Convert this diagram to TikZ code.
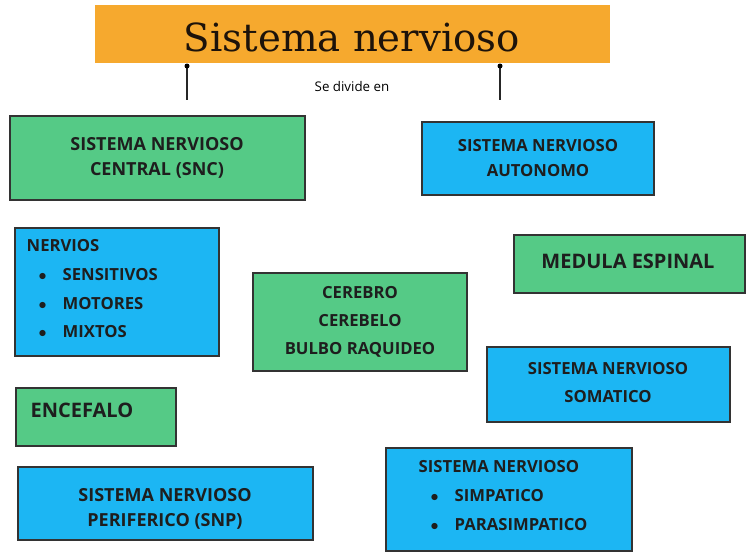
\documentclass[tikz,border=0pt]{standalone}
\usepackage{fontspec}
\setmainfont{Open Sans}
\newfontfamily\titlefont{DejaVu Serif}
\definecolor{og}{HTML}{F6A92E}
\definecolor{gr}{HTML}{55CA86}
\definecolor{bl}{HTML}{1CB6F3}
\definecolor{tx}{HTML}{1E1E1E}
\tikzset{
  gbox/.style={draw=black!80, line width=0.8pt, fill=gr},
  bbox/.style={draw=black!80, line width=0.8pt, fill=bl},
  lbl/.style={font=\bfseries\fontsize{13.5}{19}\selectfont, text=tx, align=center},
  lbll/.style={font=\bfseries\fontsize{12.5}{16}\selectfont, text=tx, align=left, anchor=north west},
  conn/.style={line width=1.2pt, black!85}
}
\begin{document}
\begin{tikzpicture}[x=0.75pt,y=-0.75pt]
\useasboundingbox (0,0) rectangle (752,557);
\fill[white] (0,0) rectangle (752,557);
\fill[og] (95,5) rectangle (610,63);
\node (title) at (352,37) {\titlefont\fontsize{29}{34}\selectfont\color{black!85!brown} Sistema nervioso};
\node[font=\fontsize{10}{12}\selectfont] (div) at (352,86) {Se divide en};
\coordinate (a1) at (187,66); \coordinate (a2) at (187,100);
\coordinate (b1) at (500,66); \coordinate (b2) at (500,100);
\draw[conn] (a1) -- (a2); \fill (a1) circle (2.5);
\draw[conn] (b1) -- (b2); \fill (b1) circle (2.5);

\draw[gbox] (10,116) rectangle (305,200);
\node[lbl] (snc) at (157,158) {SISTEMA NERVIOSO\\CENTRAL (SNC)};
\draw[bbox] (422,122) rectangle (654,195);
\node[lbl,font=\bfseries\fontsize{12.5}{19}\selectfont] (sna) at (538,158) {SISTEMA NERVIOSO\\AUTONOMO};
\draw[bbox] (15,228) rectangle (219,356);
\node[lbl,font=\bfseries\fontsize{12.5}{21.5}\selectfont,align=left,anchor=north west] (nerv) at (22,235) {NERVIOS\\
\hspace*{9pt}$\bullet$\hspace{12pt}SENSITIVOS\\
\hspace*{9pt}$\bullet$\hspace{12pt}MOTORES\\
\hspace*{9pt}$\bullet$\hspace{12pt}MIXTOS};
\draw[gbox] (514,235) rectangle (745,293);
\node[lbl,font=\bfseries\fontsize{15}{19}\selectfont] (med) at (628,261) {MEDULA ESPINAL};
\draw[gbox] (253,273) rectangle (467,371);
\node[lbl,font=\bfseries\fontsize{12.5}{21}\selectfont] (cer) at (360,322) {CEREBRO\\CEREBELO\\BULBO RAQUIDEO};
\draw[bbox] (487,347) rectangle (730,422);
\node[lbl,font=\bfseries\fontsize{12.5}{21}\selectfont] (som) at (608,383) {SISTEMA NERVIOSO\\SOMATICO};
\draw[gbox] (16,388) rectangle (176,446);
\node[lbl,font=\bfseries\fontsize{15}{19}\selectfont,anchor=west] (enc) at (26,410) {ENCEFALO};
\draw[bbox] (18,467) rectangle (313,540);
\node[lbl] (snp) at (165,509) {SISTEMA NERVIOSO\\PERIFERICO (SNP)};
\draw[bbox] (386,448) rectangle (632,551);
\node[lbl,font=\bfseries\fontsize{12.5}{21.5}\selectfont,align=left,anchor=north west] (simp) at (414,456) {SISTEMA NERVIOSO\\
\hspace*{9pt}$\bullet$\hspace{12pt}SIMPATICO\\
\hspace*{9pt}$\bullet$\hspace{12pt}PARASIMPATICO};
\end{tikzpicture}
\end{document}
